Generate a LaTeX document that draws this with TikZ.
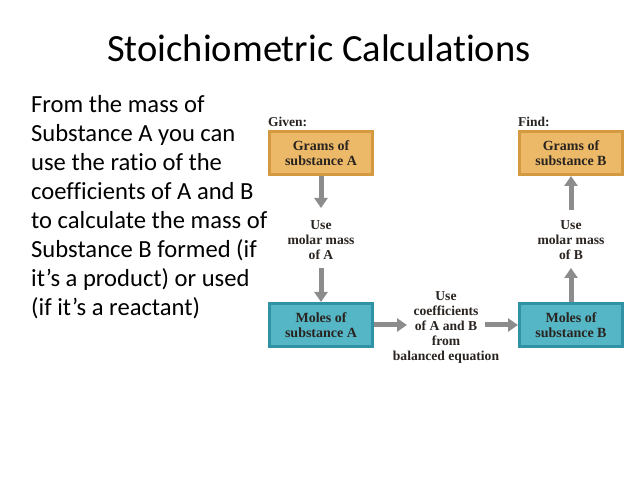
\documentclass[tikz,border=0pt]{standalone}
\usepackage{fontspec}
\setmainfont{Carlito}[RawFeature=-liga]
\newfontfamily\dfont{Liberation Serif}
\usetikzlibrary{arrows.meta}
\definecolor{goldin}{HTML}{EBB968}
\definecolor{goldout}{HTML}{D39A42}
\definecolor{tealin}{HTML}{55B6C6}
\definecolor{tealout}{HTML}{2F93A5}
\definecolor{arrowgray}{HTML}{8C8C8C}
\definecolor{dtext}{HTML}{2A2420}
\begin{document}
\begin{tikzpicture}[x=1pt,y=-1pt,
  box/.style={draw, line width=3pt, minimum width=103pt, minimum height=43pt, inner sep=0pt, align=center, font=\dfont\bfseries\fontsize{14}{14.8}\selectfont, text=dtext},
  goldbox/.style={box, fill=goldin, draw=goldout},
  tealbox/.style={box, fill=tealin, draw=tealout},
  lbl/.style={align=center, font=\dfont\bfseries\fontsize{13.6}{14.8}\selectfont, text=dtext, inner sep=0pt},
  hdr/.style={anchor=base west, inner sep=0pt, font=\dfont\bfseries\fontsize{13.5}{15}\selectfont, text=dtext},
  garrow/.style={draw=arrowgray, line width=5pt, -{Triangle[length=10pt,width=13pt]}},
  body/.style={anchor=base west, inner sep=0pt, font=\fontsize{24.6}{29}\selectfont}
]
\fill[white] (0,0) rectangle (638,478);
\useasboundingbox (0,0) rectangle (638,478);

\node[anchor=base, inner sep=0pt, font=\fontsize{38.5}{44}\selectfont] (title) at (319,62) {Stoichiometric Calculations};

\foreach \t [count=\i from 0] in {From the mass of,Substance A you can,use the ratio of the,coefficients of A and B,to calculate the mass of,Substance B formed (if,it’s a product) or used,(if it’s a reactant)}
  \node[body] (l\i) at (31,113+29*\i) {\t};

\node[hdr] (given) at (268,127) {Given:};
\node[hdr] (find) at (518,127) {Find:};

\node[goldbox] (ga) at (321,153) {Grams of\\substance A};
\node[goldbox] (gb) at (571,153) {Grams of\\substance B};
\node[tealbox] (ma) at (321,325) {Moles of\\substance A};
\node[tealbox] (mb) at (571,325) {Moles of\\substance B};

\node[lbl] (la) at (321,240) {Use\\molar mass\\of A};
\node[lbl] (lb) at (571,240) {Use\\molar mass\\of B};
\node[lbl] (lc) at (446,327.5) {Use\\coefficients\\of A and B\\from\\balanced equation};

\coordinate (a1) at (321,208);
\coordinate (a2) at (321,268);
\coordinate (a3) at (571,268);
\coordinate (a4) at (571,210);
\coordinate (a5) at (407,325);
\coordinate (a6) at (485,325);

\draw[garrow] (ga.south) -- (a1);
\draw[garrow] (a2) -- (ma.north);
\draw[garrow] (mb.north) -- (a3);
\draw[garrow] (a4) -- (gb.south);
\draw[garrow] (ma.east) -- (a5);
\draw[garrow] (a6) -- (mb.west);
\end{tikzpicture}
\end{document}
